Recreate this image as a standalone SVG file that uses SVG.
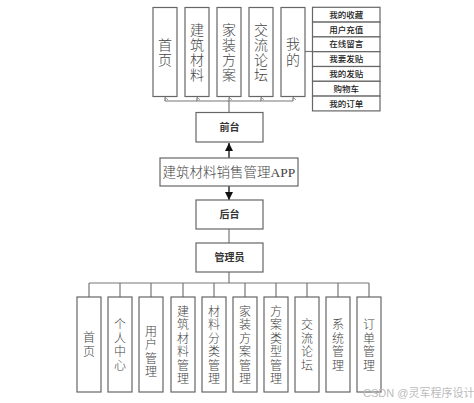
<svg xmlns="http://www.w3.org/2000/svg" width="474" height="403" viewBox="0 0 474 403">
<style>
.box{fill:#fff;stroke:#666;stroke-width:1.2}
.ln{fill:none;stroke:#777;stroke-width:1.2}
.blk{fill:none;stroke:#111;stroke-width:1.3}
.vt{font-family:"Liberation Serif","Noto Sans CJK SC",serif;font-size:14px;font-weight:300;fill:#444;text-anchor:middle;dominant-baseline:central}
.vb{font-family:"Liberation Serif","Noto Sans CJK SC",serif;font-size:12px;font-weight:300;fill:#444;text-anchor:middle;dominant-baseline:central}
.lst{font-family:"Liberation Sans","Noto Sans CJK SC",sans-serif;font-size:8.5px;font-weight:500;fill:#222;text-anchor:middle;dominant-baseline:central}
.hd{font-family:"Liberation Sans","Noto Sans CJK SC",sans-serif;font-size:10px;font-weight:bold;fill:#333;text-anchor:middle;dominant-baseline:central}
.app{font-family:"Liberation Serif","Noto Sans CJK SC",serif;font-size:13.5px;font-weight:300;fill:#444;text-anchor:middle;dominant-baseline:central}
.wm{font-family:"Liberation Sans","Noto Sans CJK SC",sans-serif;font-size:11px;fill:#bbb}
</style>
<defs>
<marker id="open" viewBox="0 0 8 8" refX="4" refY="1" markerWidth="6" markerHeight="6" orient="auto-start-reverse" markerUnits="userSpaceOnUse">
<path d="M1,5 L4,1 L7,5" fill="none" stroke="#777" stroke-width="1"/>
</marker>
<marker id="solid" viewBox="0 0 10 10" refX="10" refY="5" markerWidth="8" markerHeight="8" orient="auto" markerUnits="userSpaceOnUse">
<path d="M0,0 L10,5 L0,10 Z" fill="#111"/>
</marker>
</defs>

<g id="connectors">
<path class="ln" d="M165,101 H293"/>
<path class="ln" d="M165,101 V97.5" marker-end="url(#open)"/>
<path class="ln" d="M197,101 V97.5" marker-end="url(#open)"/>
<path class="ln" d="M229,101 V97.5" marker-end="url(#open)"/>
<path class="ln" d="M261,101 V97.5" marker-end="url(#open)"/>
<path class="ln" d="M293,101 V97.5" marker-end="url(#open)"/>
<path class="ln" d="M229,112.5 V101"/>
<path class="ln" d="M305,51.5 H312.5"/>
<path class="blk" d="M229,158 V143" marker-end="url(#solid)"/>
<path class="blk" d="M229,186 V200" marker-end="url(#solid)"/>
<path class="ln" d="M229,229 V243"/>
<path class="ln" d="M229,272 V283"/>
<path class="ln" d="M89,283 H369"/>
<path class="ln" d="M89,283 V297 M120,283 V297 M151,283 V297 M183,283 V297 M214,283 V297 M245,283 V297 M276,283 V297 M307,283 V297 M338,283 V297 M369,283 V297"/>
</g>

<g id="n-home"><rect class="box" x="153" y="7.5" width="24" height="89"/><text class="vt"><tspan x="165" y="45">首</tspan><tspan x="165" y="60">页</tspan></text></g>
<g id="n-materials"><rect class="box" x="185" y="7.5" width="24" height="89"/><text class="vt"><tspan x="197" y="30">建</tspan><tspan x="197" y="45">筑</tspan><tspan x="197" y="60">材</tspan><tspan x="197" y="75">料</tspan></text></g>
<g id="n-plans"><rect class="box" x="217" y="7.5" width="24" height="89"/><text class="vt"><tspan x="229" y="30">家</tspan><tspan x="229" y="45">装</tspan><tspan x="229" y="60">方</tspan><tspan x="229" y="75">案</tspan></text></g>
<g id="n-forum"><rect class="box" x="249" y="7.5" width="24" height="89"/><text class="vt"><tspan x="261" y="30">交</tspan><tspan x="261" y="45">流</tspan><tspan x="261" y="60">论</tspan><tspan x="261" y="75">坛</tspan></text></g>
<g id="n-mine"><rect class="box" x="281" y="7.5" width="24" height="89"/><text class="vt"><tspan x="293" y="44">我</tspan><tspan x="293" y="60">的</tspan></text></g>

<g id="n-minelist">
<rect class="box" x="312.5" y="7.3" width="67.5" height="14.8"/><text class="lst" x="346.2" y="14.7">我的收藏</text>
<rect class="box" x="312.5" y="22.1" width="67.5" height="14.8"/><text class="lst" x="346.2" y="29.5">用户充值</text>
<rect class="box" x="312.5" y="36.9" width="67.5" height="14.8"/><text class="lst" x="346.2" y="44.3">在线留言</text>
<rect class="box" x="312.5" y="51.7" width="67.5" height="14.8"/><text class="lst" x="346.2" y="59.1">我要发贴</text>
<rect class="box" x="312.5" y="66.5" width="67.5" height="14.8"/><text class="lst" x="346.2" y="73.9">我的发贴</text>
<rect class="box" x="312.5" y="81.3" width="67.5" height="14.8"/><text class="lst" x="346.2" y="88.7">购物车</text>
<rect class="box" x="312.5" y="96.1" width="67.5" height="14.8"/><text class="lst" x="346.2" y="103.5">我的订单</text>
</g>

<g id="n-front"><rect class="box" x="196" y="112.5" width="67" height="29.5"/><text class="hd" x="229.5" y="127.5">前台</text></g>
<g id="n-app"><rect class="box" x="160" y="158" width="138" height="28"/><text class="app" x="229" y="172">建筑材料销售管理APP</text></g>
<g id="n-back"><rect class="box" x="196" y="200" width="67" height="29"/><text class="hd" x="229.5" y="214.5">后台</text></g>
<g id="n-admin"><rect class="box" x="196" y="243" width="67" height="29"/><text class="hd" x="229.5" y="257.5">管理员</text></g>

<g id="b-home"><rect class="box" x="77" y="297" width="24" height="95"/><text class="vb"><tspan x="89" y="338">首</tspan><tspan x="89" y="352">页</tspan></text></g>
<g id="b-center"><rect class="box" x="108" y="297" width="24" height="95"/><text class="vb"><tspan x="120" y="325">个</tspan><tspan x="120" y="338.5">人</tspan><tspan x="120" y="352">中</tspan><tspan x="120" y="365.5">心</tspan></text></g>
<g id="b-users"><rect class="box" x="139" y="297" width="24" height="95"/><text class="vb"><tspan x="151" y="331.5">用</tspan><tspan x="151" y="345">户</tspan><tspan x="151" y="358.5">管</tspan><tspan x="151" y="372">理</tspan></text></g>
<g id="b-materials"><rect class="box" x="171" y="297" width="24" height="95"/><text class="vb"><tspan x="183" y="311.5">建</tspan><tspan x="183" y="325">筑</tspan><tspan x="183" y="338.5">材</tspan><tspan x="183" y="352">料</tspan><tspan x="183" y="365.5">管</tspan><tspan x="183" y="379">理</tspan></text></g>
<g id="b-category"><rect class="box" x="202" y="297" width="24" height="95"/><text class="vb"><tspan x="214" y="311.5">材</tspan><tspan x="214" y="325">料</tspan><tspan x="214" y="338.5">分</tspan><tspan x="214" y="352">类</tspan><tspan x="214" y="365.5">管</tspan><tspan x="214" y="379">理</tspan></text></g>
<g id="b-plans"><rect class="box" x="233" y="297" width="24" height="95"/><text class="vb"><tspan x="245" y="311.5">家</tspan><tspan x="245" y="325">装</tspan><tspan x="245" y="338.5">方</tspan><tspan x="245" y="352">案</tspan><tspan x="245" y="365.5">管</tspan><tspan x="245" y="379">理</tspan></text></g>
<g id="b-plantypes"><rect class="box" x="264" y="297" width="24" height="95"/><text class="vb"><tspan x="276" y="311.5">方</tspan><tspan x="276" y="325">案</tspan><tspan x="276" y="338.5">类</tspan><tspan x="276" y="352">型</tspan><tspan x="276" y="365.5">管</tspan><tspan x="276" y="379">理</tspan></text></g>
<g id="b-forum"><rect class="box" x="295" y="297" width="24" height="95"/><text class="vb"><tspan x="307" y="325">交</tspan><tspan x="307" y="338.5">流</tspan><tspan x="307" y="352">论</tspan><tspan x="307" y="365.5">坛</tspan></text></g>
<g id="b-system"><rect class="box" x="326" y="297" width="24" height="95"/><text class="vb"><tspan x="338" y="325">系</tspan><tspan x="338" y="338.5">统</tspan><tspan x="338" y="352">管</tspan><tspan x="338" y="365.5">理</tspan></text></g>
<g id="b-orders"><rect class="box" x="357" y="297" width="24" height="95"/><text class="vb"><tspan x="369" y="325">订</tspan><tspan x="369" y="338.5">单</tspan><tspan x="369" y="352">管</tspan><tspan x="369" y="365.5">理</tspan></text></g>

<text class="wm" x="363" y="397">CSDN @灵军程序设计</text>
</svg>
